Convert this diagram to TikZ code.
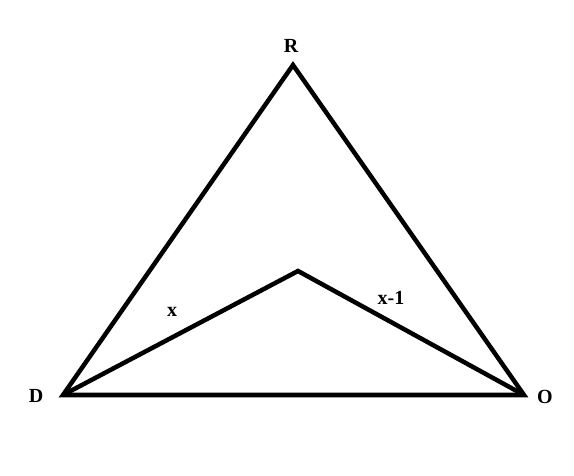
\documentclass[tikz,border=0pt]{standalone}
\usepackage{fontspec}
\setmainfont{Liberation Serif}
\begin{document}
\begin{tikzpicture}
  [x=1pt,y=-1pt,every node/.style={font=\bfseries\fontsize{20}{20}\selectfont,inner sep=0pt}]
  \useasboundingbox (0,0) rectangle (574,476);
  \coordinate (R) at (293,65);
  \coordinate (D) at (63,395);
  \coordinate (O) at (524,395);
  \coordinate (P) at (298,271);

  \node (r) at (291,46) {R};
  \node (d) at (36,396) {D};
  \node (o) at (545,397) {O};
  \node (x) at (172,312) {x};
  \node (x1) at (391,298) {x-1};

  \draw[line width=4.5pt,line join=miter] (R) -- (D) -- (O) -- cycle;
  \draw[line width=4.5pt] (D) -- (P) -- (O);

\end{tikzpicture}
\end{document}
